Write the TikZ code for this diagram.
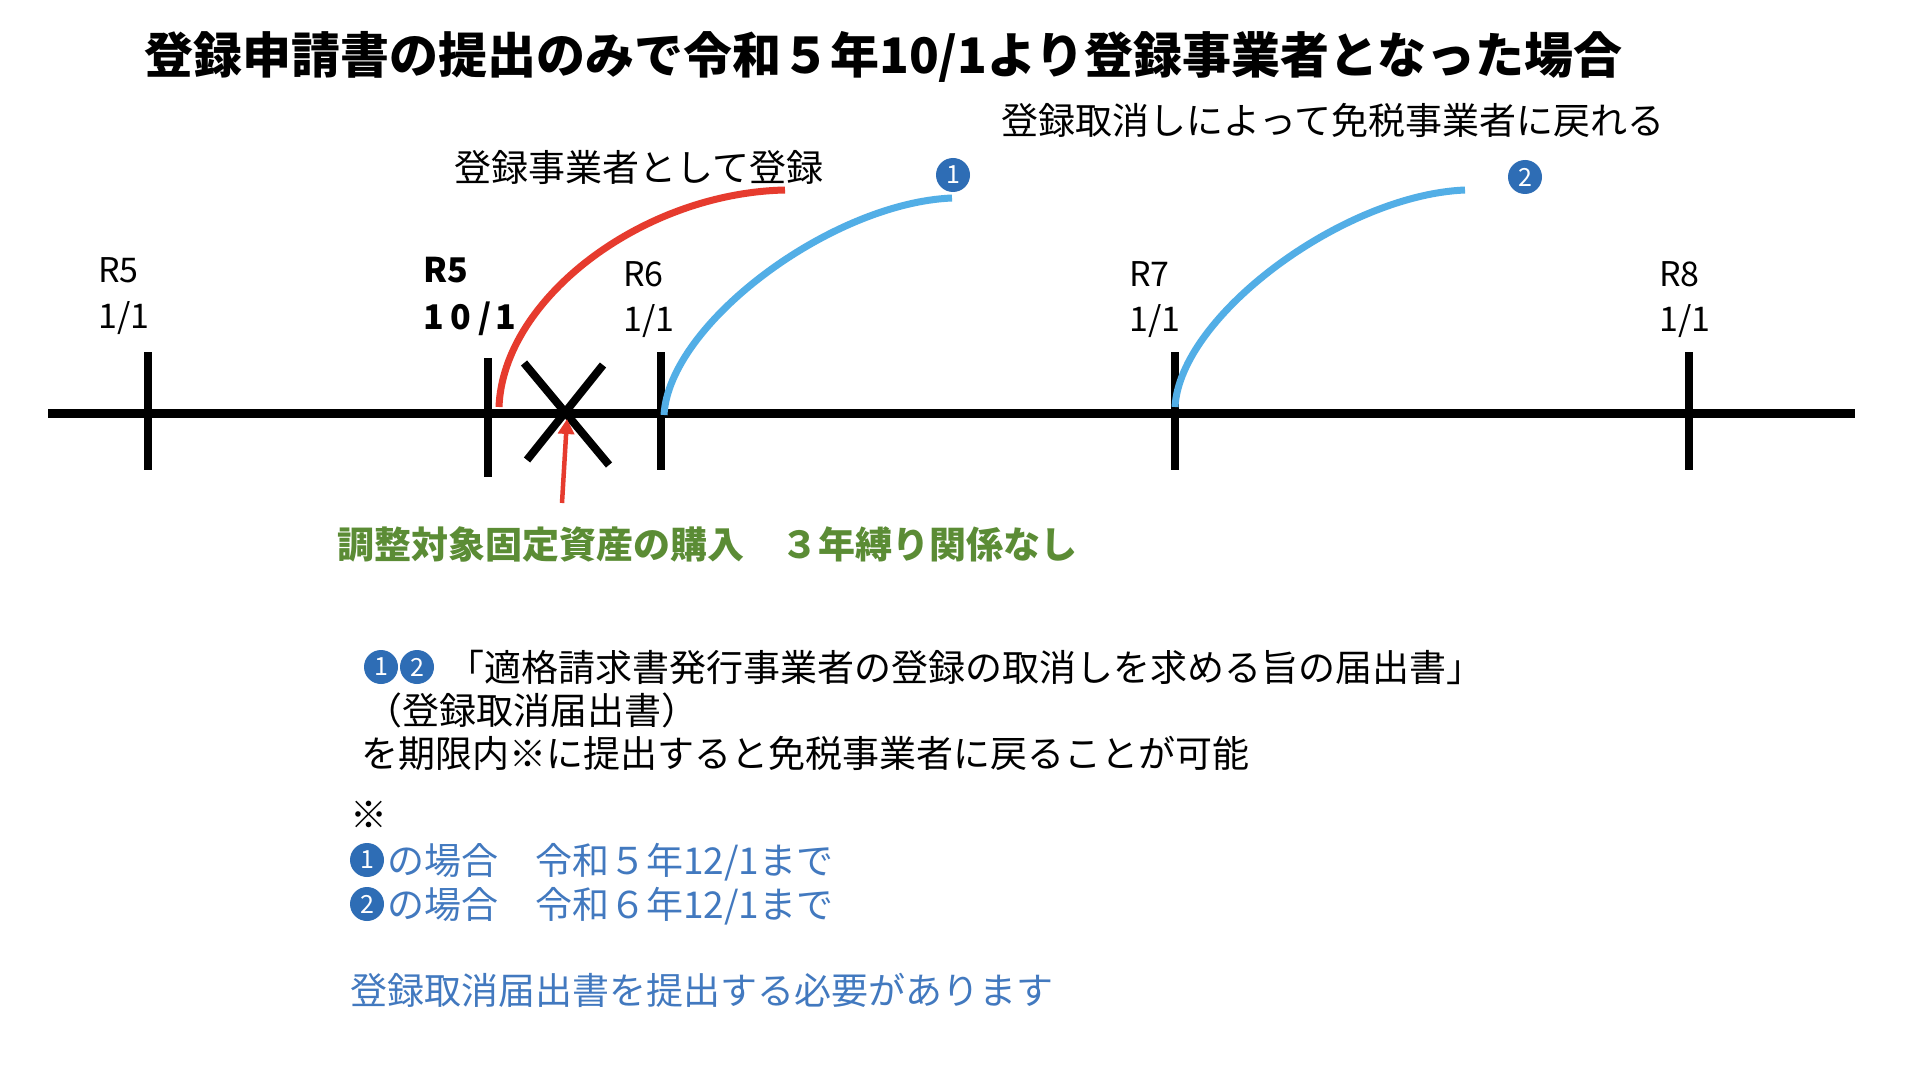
\documentclass[tikz,border=0pt]{standalone}
\usepackage{fontspec}
\setmainfont{Noto Sans CJK JP}
\usetikzlibrary{arrows.meta}
\definecolor{redarc}{HTML}{E63B2E}
\definecolor{bluearc}{HTML}{52AEE6}
\definecolor{numblue}{HTML}{2E6DB5}
\definecolor{txtblue}{HTML}{4279BF}
\definecolor{olivegreen}{HTML}{5B8C35}
\tikzset{
  txt/.style={inner sep=0pt, anchor=base west, font=\fontsize{37}{44}\selectfont},
  lbl/.style={inner sep=0pt, anchor=base west, font=\fontsize{34}{40}\selectfont},
  lblb/.style={inner sep=0pt, anchor=base west, font=\bfseries\fontsize{34}{40}\selectfont},
  axisline/.style={line width=9pt},
  tickline/.style={line width=8pt},
  crossline/.style={line width=8pt},
  arcred/.style={line width=7pt, draw=redarc},
  arcblue/.style={line width=7pt, draw=bluearc},
  num/.style={circle, fill=numblue, text=white, inner sep=0pt, minimum size=34pt, font=\fontsize{25}{25}\selectfont},
}
\begin{document}
\begin{tikzpicture}[x=1pt,y=-1pt]
\useasboundingbox[fill=white] (0,0) rectangle (1920,1086);
% title
\node[txt, font=\bfseries\fontsize{49}{56}\selectfont] (title) at (144,74) {登録申請書の提出のみで令和５年10/1より登録事業者となった場合};
% captions above
\node[txt] (reg) at (454,182) {登録事業者として登録};
\node[txt] (back) at (1001,135) {登録取消しによって免税事業者に戻れる};
\node[num] (n1top) at (953,175) {1};
\node[num] (n2top) at (1525,177) {2};
% timeline
\coordinate (L) at (48,413);
\coordinate (R) at (1855,413);
\draw[axisline] (L) -- (R);
\coordinate (t1a) at (148,352); \coordinate (t1b) at (148,470);
\coordinate (t2a) at (488,358); \coordinate (t2b) at (488,477);
\coordinate (t3a) at (661,352); \coordinate (t3b) at (661,470);
\coordinate (t4a) at (1175,352); \coordinate (t4b) at (1175,470);
\coordinate (t5a) at (1689,352); \coordinate (t5b) at (1689,470);
\draw[tickline] (t1a) -- (t1b);
\draw[tickline] (t2a) -- (t2b);
\draw[tickline] (t3a) -- (t3b);
\draw[tickline] (t4a) -- (t4b);
\draw[tickline] (t5a) -- (t5b);
% tick labels
\node[lbl] (l1a) at (98,283) {R5};
\node[lbl] (l1b) at (98,328) {1/1};
\node[lblb] (l2a) at (423,283) {R5};
\node[lblb] (l2b) at (423,329) {1\hspace{7pt}0\hspace{7pt}/\hspace{4pt}1};
\node[lbl] (l3a) at (623,286) {R6};
\node[lbl] (l3b) at (623,331) {1/1};
\node[lbl] (l4a) at (1129,286) {R7};
\node[lbl] (l4b) at (1129,331) {1/1};
\node[lbl] (l5a) at (1659,286) {R8};
\node[lbl] (l5b) at (1659,331) {1/1};
% cross
\coordinate (xa) at (524,363); \coordinate (xb) at (609,465);
\coordinate (xc) at (603,365); \coordinate (xd) at (527,460);
\draw[crossline] (xa) -- (xb);
\draw[crossline] (xc) -- (xd);
% arcs
\coordinate (r0) at (499,407); \coordinate (r1) at (785,190);
\draw[arcred] (r0) .. controls (503,299) and (642,193) .. (r1);
\coordinate (b0) at (664,415); \coordinate (b1) at (952,198);
\draw[arcblue] (b0) .. controls (669,324) and (831,203) .. (b1);
\coordinate (c0) at (1175,407); \coordinate (c1) at (1465,190);
\draw[arcblue] (c0) .. controls (1180,316) and (1343,195) .. (c1);
% red arrow
\coordinate (a0) at (562,503); \coordinate (a1) at (567,419);
\draw[draw=redarc, line width=4.5pt, -{Triangle[length=15pt,width=16pt]}] (a0) -- (a1);
% green caption
\node[txt, font=\bfseries\fontsize{37}{44}\selectfont, text=olivegreen] (asset) at (337,558) {調整対象固定資産の購入　３年縛り関係なし};
% explanation block
\node[num] (n1a) at (381,667) {1};
\node[num] (n2a) at (417,667) {2};
\node[txt] (form) at (447,681) {「適格請求書発行事業者の登録の取消しを求める旨の届出書」};
\node[txt] (form2) at (365,724) {（登録取消届出書）};
\node[txt] (form3) at (361,767) {を期限内※に提出すると免税事業者に戻ることが可能};
\node[txt] (note) at (350,828) {※};
\node[num] (n1b) at (367,860) {1};
\node[txt, text=txtblue] (case1) at (387,874) {の場合　令和５年12/1まで};
\node[num] (n2b) at (367,904) {2};
\node[txt, text=txtblue] (case2) at (387,918) {の場合　令和６年12/1まで};
\node[txt, text=txtblue] (need) at (350,1004) {登録取消届出書を提出する必要があります};
\end{tikzpicture}
\end{document}
